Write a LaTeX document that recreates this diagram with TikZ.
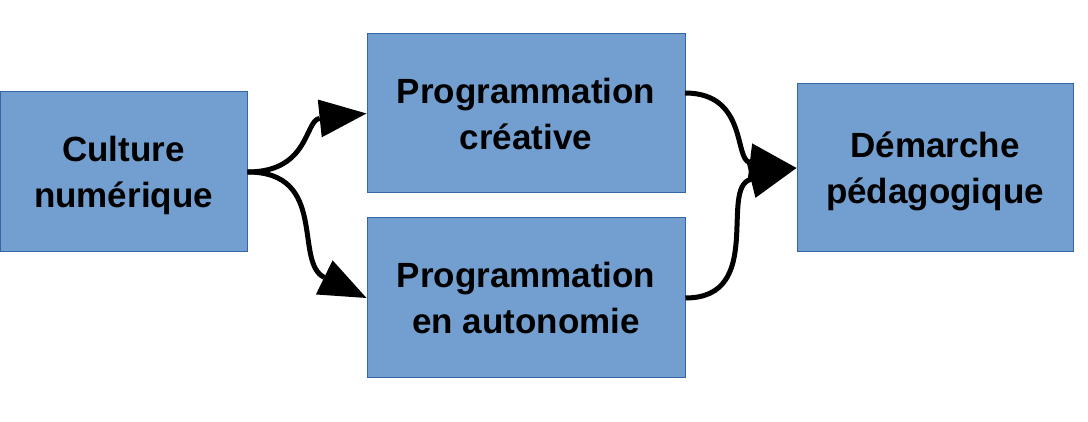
\documentclass[tikz,border=0pt]{standalone}
\usepackage{fontspec}
\setmainfont{Liberation Sans}
\usepackage{tikz}
\usetikzlibrary{arrows.meta}
\usepackage{xcolor}
\definecolor{bleu}{RGB}{114, 159, 207}
\definecolor{bordbleu}{RGB}{52, 101, 164}

\begin{document}
\begin{tikzpicture}[x=1pt,y=1pt,
  bloc/.style={draw=bordbleu,fill=bleu,line width=1pt,inner sep=0pt,
    align=center,text depth=0pt,font=\fontsize{35}{46}\selectfont\bfseries},
  fleche/.style={line width=5pt,-{Triangle[length=47pt,width=38pt,line width=0pt]}}]
\useasboundingbox (0,0) rectangle (1088,422);
\node[bloc,minimum width=247pt,minimum height=160pt] (culture) at (123.5,250) {Culture\\num\'erique};
\node[bloc,minimum width=318pt,minimum height=159pt] (creative) at (526,308.5) {Programmation\\cr\'eative};
\node[bloc,minimum width=318pt,minimum height=160pt] (autonomie) at (526,124) {Programmation\\en autonomie};
\node[bloc,minimum width=276pt,minimum height=168pt] (demarche) at (935,254) {D\'emarche\\p\'edagogique};
\coordinate (sortiecrea) at (685,329);
\draw[fleche] (culture.east) to[out=0,in=186,looseness=1.2] (creative.west);
\draw[fleche] (culture.east) to[out=0,in=154,looseness=1.2] (autonomie.west);
\draw[fleche] (sortiecrea) to[out=0,in=173,looseness=1.2] (demarche.west);
\draw[fleche] (autonomie.east) to[out=0,in=194,looseness=1.2] (demarche.west);
\end{tikzpicture}
\end{document}
